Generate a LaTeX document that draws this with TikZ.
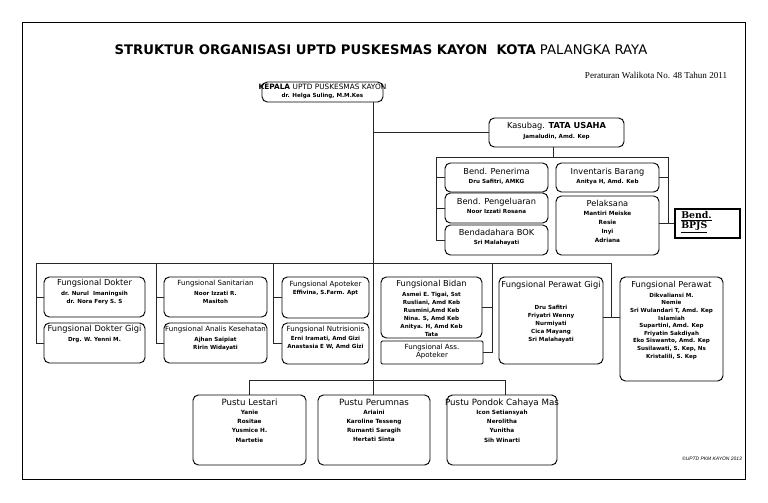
\documentclass[tikz,border=0pt]{standalone}
\usepackage{fontspec}
\setmainfont{DejaVu Sans}
\newfontfamily\perwalfont{Liberation Serif}
\newfontfamily\crfont{Liberation Sans}
\newfontfamily\bpjsfont{DejaVu Serif}
\usetikzlibrary{positioning,fit}

\newcommand{\hd}[1]{{\mdseries\fontsize{6.2}{7}\selectfont #1}}
\newcommand{\hs}[1]{{\mdseries\fontsize{5.3}{6}\selectfont #1}}
\newcommand{\hp}[1]{{\mdseries\fontsize{6.5}{7}\selectfont #1}}

\tikzset{
	org/.style={draw, rounded corners=4pt, line width=0.7pt, inner sep=0pt},
	lst/.style={align=center, inner sep=0pt, font=\fontsize{4.2}{6}\selectfont\bfseries},
	lstw/.style={lst, font=\fontsize{4.3}{6.9}\selectfont\bfseries},
	conn/.style={line width=0.65pt, draw=black!85},
}

\begin{document}
\begin{tikzpicture}[x=0.75pt, y=-0.75pt]
	\useasboundingbox (0,0) rectangle (768,503);
	\draw[line width=0.7pt] (22,22) rectangle (745,479);

	\node[font=\fontsize{9.9}{11}\selectfont] (judul) at (381,50)
	{\textbf{STRUKTUR ORGANISASI UPTD PUSKESMAS KAYON\ \ KOTA} PALANGKA RAYA};
	\node[font=\perwalfont\fontsize{6.8}{8}\selectfont] (perwal) at (656,75) {Peraturan Walikota No. 48 Tahun 2011};
	\node[font=\crfont\itshape\fontsize{3.7}{4}\selectfont] (cr) at (712,459) {©UPTD PKM KAYON 2013};

	% pimpinan dan tata usaha
	\node[org, fit={(262,82) (383,102)}] (kep) {};
	\node[lst, below=2pt of kep.north] {{\fontsize{5.5}{6}\selectfont KEPALA \mdseries UPTD PUSKESMAS KAYON}\\ dr. Helga Suling, M.M.Kes};
	\node[org, fit={(489,118) (624,147)}] (kas) {};
	\node[lst, below=3pt of kas.north] {\hd{Kasubag. \textbf{TATA USAHA}}\\[2pt] Jamaludin, Amd. Kep};

	\node[org, fit={(445,163) (548,192)}] (pen) {};
	\node[lst, below=4pt of pen.north] {\hd{Bend. Penerima}\\[0.8pt] Dru Safitri, AMKG};
	\node[org, fit={(445,193) (548,223)}] (kel) {};
	\node[lst, below=4pt of kel.north] {\hd{Bend. Pengeluaran}\\[0.8pt] Noor Izzati Rosana};
	\node[org, fit={(445,225) (548,255)}] (bok) {};
	\node[lst, below=3pt of bok.north] {\hd{Bendadahara BOK}\\[0.8pt] Sri Malahayati};
	\node[org, fit={(556,163) (659,192)}] (inv) {};
	\node[lst, below=4pt of inv.north] {\hd{Inventaris Barang}\\[0.8pt] Anitya H, Amd. Keb};
	\node[org, fit={(556,196) (659,255)}] (pel) {};
	\node[lstw, below=3pt of pel.north] {\hd{Pelaksana}\\ Mantiri Meiske\\ Resie\\ Inyi\\ Adriana};
	\node[draw, line width=1pt, inner sep=0pt, fit={(675,209) (740,238)}] (bpjs) {};
	\node[anchor=north west, inner sep=0pt, align=left, font=\bpjsfont\bfseries\fontsize{7}{7.6}\selectfont]
	at ([xshift=5pt,yshift=-2pt]bpjs.north west) {\underline{Bend.}\\ \underline{BPJS}};

	% fungsional
	\node[org, fit={(44,277) (145,317)}] (dok) {};
	\node[lst, below=2pt of dok.north] {\hd{Fungsional Dokter}\\[1.5pt] dr. Nurul\ \ Imaningsih\\ dr. Nora Fery S. S};
	\node[org, fit={(44,323) (145,363)}] (dgg) {};
	\node[lst, below=2pt of dgg.north] {\hd{Fungsional Dokter Gigi}\\[1.5pt] Drg. W. Yenni M.};
	\node[org, fit={(164,277) (267,317)}] (san) {};
	\node[lst, below=2.5pt of san.north] {\hs{Fungsional Sanitarian}\\[1.5pt] Noor Izzati R.\\ Masitoh};
	\node[org, fit={(164,323) (267,363)}] (ana) {};
	\node[lst, below=2.5pt of ana.north] {\hs{Fungsional Analis Kesehatan}\\[1.5pt] Ajhan Saipiat\\ Ririn Widayati};
	\node[org, fit={(282,277) (369,318)}] (apt) {};
	\node[lst, below=3pt of apt.north] {\hs{Fungsional Apoteker}\\[0.5pt] Effivina, S.Farm. Apt};
	\node[org, fit={(282,323) (369,364)}] (nut) {};
	\node[lst, below=2.5pt of nut.north] {\hs{Fungsional Nutrisionis}\\[0.5pt] Erni Iramati, Amd Gizi\\ Anastasia E W, Amd Gizi};
	\node[org, fit={(381,277) (482,338)}] (bid) {};
	\node[lst, below=2.5pt of bid.north] {\hd{Fungsional Bidan}\\[1.5pt] Asmei E. Tigai, Sst\\ Rusliani, Amd Keb\\ Rusmini,Amd Keb\\ Nina. S, Amd Keb\\ Anitya. H, Amd Keb\\ Tata};
	\node[org, rounded corners=1pt, fit={(381,341) (483,364)}] (aap) {};
	\node[lst, below=2.5pt of aap.north] {\hs{Fungsional Ass.}\\ \hs{Apoteker}};
	\node[org, fit={(499,277) (603,364)}] (pgg) {};
	\node[lst, below=3.5pt of pgg.north] {\hd{Fungsional Perawat Gigi}\\[10pt] Dru Safitri\\ Friyatri Wenny\\ Nurmiyati\\ Cica Mayang\\ Sri Malahayati};
	\node[org, fit={(620,277) (723,381)}] (prw) {};
	\node[lst, font=\fontsize{4.2}{5.7}\selectfont\bfseries, below=3pt of prw.north] {\hd{Fungsional Perawat}\\[2pt] Dikvaliansi M.\\ Nemie\\ Sri Wulandari T, Amd. Kep\\ Islamiah\\ Supartini, Amd. Kep\\ Friyatin Sakdiyah\\ Eko Siswanto, Amd. Kep\\ Susilawati, S. Kep, Ns\\ Kristalili, S. Kep};

	% pustu
	\node[org, fit={(193,395) (306,465)}] (les) {};
	\node[lstw, below=3pt of les.north] {\hp{Pustu Lestari}\\ Yanie\\ Rositae\\ Yusmice H.\\ Martetie};
	\node[org, fit={(318,395) (430,465)}] (per) {};
	\node[lstw, below=3pt of per.north] {\hp{Pustu Perumnas}\\ Ariaini\\ Karoline Tesseng\\ Rumanti Saragih\\ Hertati Sinta};
	\node[org, fit={(447,395) (557,465)}] (pon) {};
	\node[lstw, below=3pt of pon.north] {\hp{Pustu Pondok Cahaya Mas}\\ Icon Setiansyah\\ Nerolitha\\ Yunitha\\ Sih Winarti};

	% garis
	\coordinate (pbus) at (373,380);
	\coordinate (kl) at (436,157);
	\coordinate (kr) at (668,157);
	\coordinate (f1) at (36,263);
	\coordinate (f2) at (156,263);
	\coordinate (f3) at (273,263);
	\coordinate (f4) at (492,263);
	\coordinate (f5) at (611,263);
	\coordinate (f5b) at (611,317);
	\coordinate (p1) at (249,380);
	\coordinate (p3) at (505,380);

	\draw[conn] (kep.south -| pbus) -- (pbus);
	\draw[conn] (kas.west) -- (kas.west -| pbus);
	\draw[conn] (kas.south -| 553,0) -- (kl -| 553,0);
	\draw[conn] (kl) -- (kr);
	\draw[conn] (kl) |- (bok.west);
	\draw[conn] (pen.west) -- (pen.west -| kl);
	\draw[conn] (kel.west) -- (kel.west -| kl);
	\draw[conn] (kr) |- (bpjs.west);
	\draw[conn] (inv.east) -- (inv.east -| kr);
	\draw[conn] (pel.east |- bpjs.west) -- (bpjs.west -| kr);

	\draw[conn] (f1) -- (f5);
	\draw[conn] (f1) |- (dgg.west);
	\draw[conn] (dok.west) -- (dok.west -| f1);
	\draw[conn] (f2) |- (ana.west);
	\draw[conn] (san.west) -- (san.west -| f2);
	\draw[conn] (f3) |- (nut.west);
	\draw[conn] (apt.west) -- (apt.west -| f3);
	\draw[conn] (f4) |- (aap.east);
	\draw[conn] (bid.east) -- (bid.east -| f4);
	\draw[conn] (f5) -- (f5b);
	\draw[conn] (pgg.east |- f5b) -- (prw.west |- f5b);

	\draw[conn] (p1) -- (p3);
	\draw[conn] (p1) -- (les.north -| p1);
	\draw[conn] (pbus) -- (per.north -| pbus);
	\draw[conn] (p3) -- (pon.north -| p3);
\end{tikzpicture}
\end{document}
